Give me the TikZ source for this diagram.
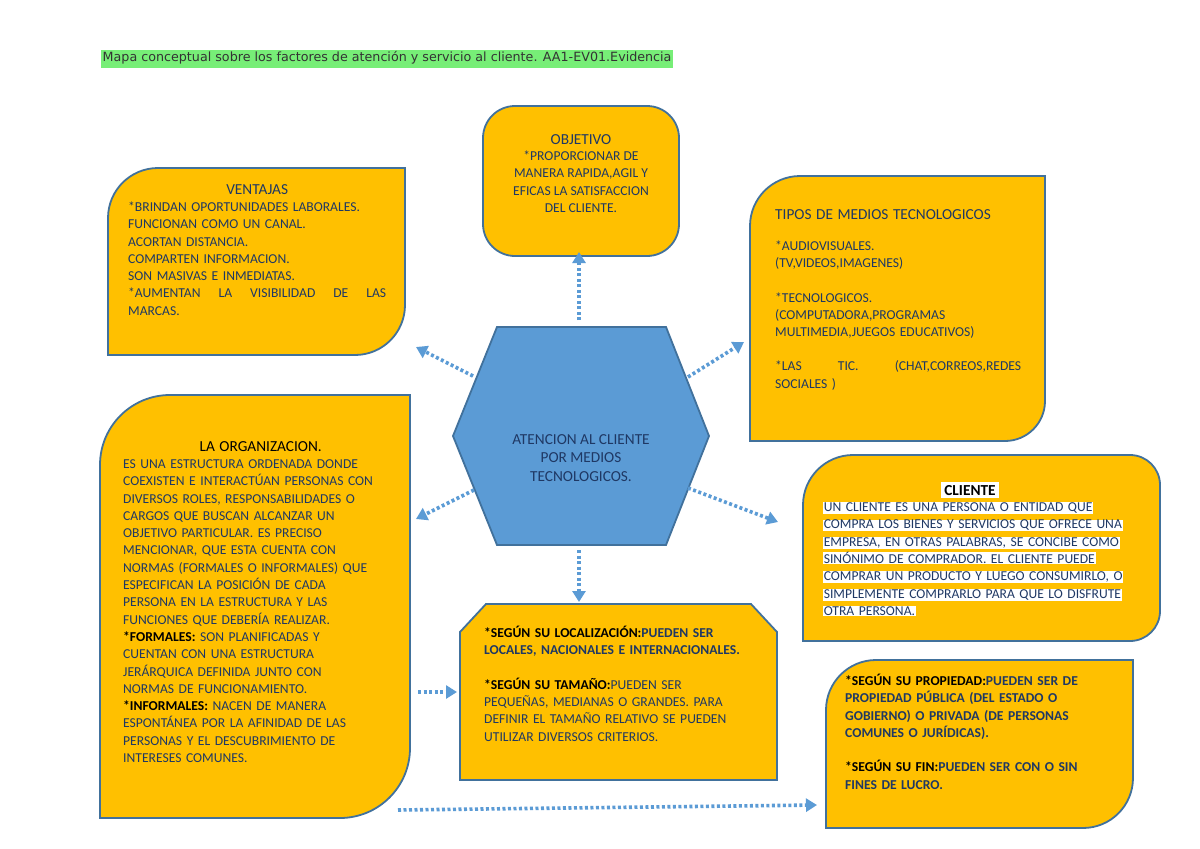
\documentclass[tikz,border=0pt]{standalone}
\usepackage{fontspec}
\setmainfont{Carlito}
\newfontfamily\titlefont{DejaVu Sans}
\usetikzlibrary{arrows.meta}
\definecolor{boxy}{HTML}{FFC000}
\definecolor{edge}{HTML}{41719C}
\definecolor{hexb}{HTML}{5B9BD5}
\definecolor{txt}{HTML}{1F3864}
\definecolor{hlgreen}{HTML}{77EE77}
\tikzset{
  box/.style={fill=boxy,draw=edge,line width=1.8pt},
  txtnode/.style={anchor=north west,inner sep=0pt,text=txt,font=\fontsize{13.6}{17.3}\selectfont,align=left},
  conn/.style={draw=hexb,line width=3.6pt,dash pattern=on 3pt off 2.5pt,-{Triangle[length=11pt,width=13pt]}},
}
\newcommand{\hlw}[1]{\colorbox{white}{#1}}
\begin{document}
\begin{tikzpicture}[x=1pt,y=-1pt]
\useasboundingbox (0,0) rectangle (1200,849);
\fill[white] (0,0) rectangle (1200,849);
% title
\node[anchor=west,inner sep=0pt,font=\titlefont\fontsize{12.7}{14}\selectfont,text=black!80] (title) at (101,59) {\setlength{\fboxsep}{1.5pt}\colorbox{hlgreen}{\strut Mapa conceptual sobre los factores de atención y servicio al cliente. AA1-EV01.Evidencia}};
% boxes
\draw[box,rounded corners=32] (483,106) rectangle (679,256);
\draw[box] (108,260) [rounded corners=50]-- (108,168) -- (250,168) [sharp corners]-- (405,168) -- (405,260) [rounded corners=50]-- (405,355) -- (250,355) [sharp corners]-- (108,355) -- cycle;
\draw[box] (750,300) [rounded corners=50]-- (750,176) -- (900,176) [sharp corners]-- (1045,176) -- (1045,300) [rounded corners=40]-- (1045,441) -- (900,441) [sharp corners]-- (750,441) -- cycle;
\draw[box] (100,600) [rounded corners=70]-- (100,395) -- (250,395) [sharp corners]-- (410,395) -- (410,600) [rounded corners=70]-- (410,818) -- (250,818) [sharp corners]-- (100,818) -- cycle;
\draw[box] (803,550) [rounded corners=50]-- (803,455) -- (980,455) [rounded corners=30]-- (1160,455) -- (1160,550) [rounded corners=30]-- (1160,641) -- (980,641) [sharp corners]-- (803,641) -- cycle;
\draw[box] (460,632) -- (486,604) -- (751,604) -- (777,632) -- (777,780) -- (460,780) -- cycle;
\draw[box] (826,740) [rounded corners=50]-- (826,660) -- (980,660) [sharp corners]-- (1133,660) -- (1133,740) [rounded corners=50]-- (1133,828) -- (980,828) [sharp corners]-- (826,828) -- cycle;
% hexagon
\draw[fill=hexb,draw=edge,line width=1.8pt] (453,436) -- (497,327) -- (666,327) -- (709,436) -- (666,545) -- (497,545) -- cycle;
\node[align=center,text=txt,font=\fontsize{15.3}{18.5}\selectfont] (center) at (581,458) {ATENCION AL CLIENTE\\POR MEDIOS\\TECNOLOGICOS.};
% texts
\node[txtnode,align=center,anchor=north] (obj) at (581,134) {{\fontsize{15.3}{18}\selectfont OBJETIVO}\\[-1pt]*PROPORCIONAR DE\\MANERA RAPIDA,AGIL Y\\EFICAS LA SATISFACCION\\DEL CLIENTE.};
\node[txtnode,text width=258pt] (vent) at (128,184) {\centering{\fontsize{15.3}{18}\selectfont VENTAJAS}\par\raggedright
*BRINDAN OPORTUNIDADES LABORALES.\\
*FUNCIONAN COMO UN CANAL.\\
*ACORTAN DISTANCIA.\\
*COMPARTEN INFORMACION.\\
*SON MASIVAS E INMEDIATAS.\par
{\rightskip=0pt \parfillskip=0pt plus 1fil \spaceskip=0.33em plus 3em *AUMENTAN LA VISIBILIDAD DE LAS MARCAS.\par}};
\node[txtnode,text width=246pt] (tipos) at (775,209) {{\fontsize{15.3}{18}\selectfont TIPOS DE MEDIOS TECNOLOGICOS}\\[14pt]
*AUDIOVISUALES.\\(TV,VIDEOS,IMAGENES)\\[17pt]
*TECNOLOGICOS.\\(COMPUTADORA,PROGRAMAS\\MULTIMEDIA,JUEGOS EDUCATIVOS)\\[17pt]
*LAS\hfill TIC.\hfill(CHAT,CORREOS,REDES\\SOCIALES )};
\node[txtnode,text width=275pt] (org) at (123,441) {\centering{\fontsize{15.3}{18}\selectfont\color{black} LA ORGANIZACION.}\par\raggedright
ES UNA ESTRUCTURA ORDENADA DONDE\\
COEXISTEN E INTERACTÚAN PERSONAS CON\\
DIVERSOS ROLES, RESPONSABILIDADES O\\
CARGOS QUE BUSCAN ALCANZAR UN\\
OBJETIVO PARTICULAR. ES PRECISO\\
MENCIONAR, QUE ESTA CUENTA CON\\
NORMAS (FORMALES O INFORMALES) QUE\\
ESPECIFICAN LA POSICIÓN DE CADA\\
PERSONA EN LA ESTRUCTURA Y LAS\\
FUNCIONES QUE DEBERÍA REALIZAR.\\
{\color{black}\bfseries *FORMALES:} SON PLANIFICADAS Y\\
CUENTAN CON UNA ESTRUCTURA\\
JERÁRQUICA DEFINIDA JUNTO CON\\
NORMAS DE FUNCIONAMIENTO.\\
{\color{black}\bfseries *INFORMALES:} NACEN DE MANERA\\
ESPONTÁNEA POR LA AFINIDAD DE LAS\\
PERSONAS Y EL DESCUBRIMIENTO DE\\
INTERESES COMUNES.};
\node[txtnode,anchor=north,align=center,text=black] (clt) at (970,482) {\fontsize{15.3}{18}\selectfont\bfseries\hlw{CLIENTE}};
\node[txtnode,text width=335pt] (cltx) at (823,502) {\setlength{\fboxsep}{0.6pt}%
\hlw{UN CLIENTE ES UNA PERSONA O ENTIDAD QUE}\\
\hlw{COMPRA LOS BIENES Y SERVICIOS QUE OFRECE UNA}\\
\hlw{EMPRESA, EN OTRAS PALABRAS, SE CONCIBE COMO}\\
\hlw{SINÓNIMO DE COMPRADOR. EL CLIENTE PUEDE}\\
\hlw{COMPRAR UN PRODUCTO Y LUEGO CONSUMIRLO, O}\\
\hlw{SIMPLEMENTE COMPRARLO PARA QUE LO DISFRUTE}\\
\hlw{OTRA PERSONA.}};
\node[txtnode,text width=305pt] (loc) at (484,626) {{\bfseries\color{black}*SEGÚN SU LOCALIZACIÓN:}{\bfseries PUEDEN SER\\LOCALES, NACIONALES E INTERNACIONALES.}\\[17pt]
{\bfseries\color{black}*SEGÚN SU TAMAÑO:}PUEDEN SER\\
PEQUEÑAS, MEDIANAS O GRANDES. PARA\\
DEFINIR EL TAMAÑO RELATIVO SE PUEDEN\\
UTILIZAR DIVERSOS CRITERIOS.};
\node[txtnode,text width=295pt] (prop) at (845,674) {\bfseries{\color{black}*SEGÚN SU PROPIEDAD:}PUEDEN SER DE\\
PROPIEDAD PÚBLICA (DEL ESTADO O\\
GOBIERNO) O PRIVADA (DE PERSONAS\\
COMUNES O JURÍDICAS).\\[17pt]
{\color{black}*SEGÚN SU FIN:}PUEDEN SER CON O SIN\\
FINES DE LUCRO.};
% connector ends
\coordinate (a1) at (579,320); \coordinate (b1) at (579,252);
\coordinate (a2) at (473,376); \coordinate (b2) at (416,347);
\coordinate (a3) at (688,377); \coordinate (b3) at (744,342);
\coordinate (a4) at (474,490); \coordinate (b4) at (416,519);
\coordinate (a5) at (688,488); \coordinate (b5) at (778,522);
\coordinate (a6) at (579,550); \coordinate (b6) at (579,602);
\coordinate (a7) at (418,692); \coordinate (b7) at (457,692);
\coordinate (a8) at (398,810); \coordinate (b8) at (817,805);
\foreach \i in {1,...,8} \draw[conn] (a\i) -- (b\i);
\end{tikzpicture}
\end{document}
